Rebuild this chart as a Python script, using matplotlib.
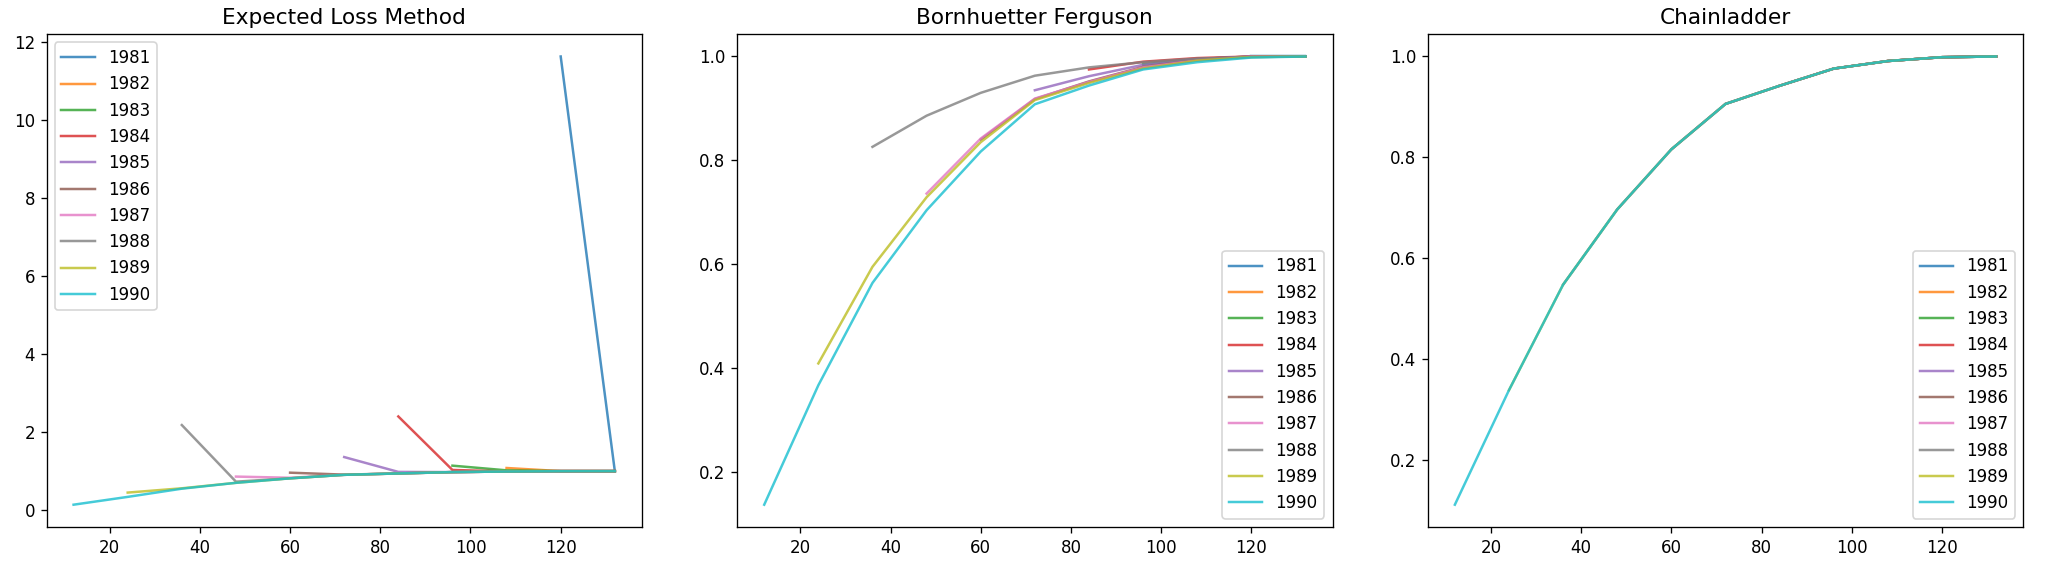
import matplotlib
matplotlib.use("Agg")
import matplotlib.pyplot as plt

# development ages (months) and origin years
ages = [12, 24, 36, 48, 60, 72, 84, 96, 108, 120, 132]
years = [1981, 1982, 1983, 1984, 1985, 1986, 1987, 1988, 1989, 1990]

# Expected Loss Method, one list per origin year (starts at its latest age)
el_1981 = [11.62, 1.0]
el_1982 = [1.08, 1.0, 1.0]
el_1983 = [1.14, 1.02, 1.0, 1.0]
el_1984 = [2.40, 1.03, 0.99, 1.0, 1.0]
el_1985 = [1.36, 0.98, 0.975, 0.99, 1.0, 1.0]
el_1986 = [0.96, 0.91, 0.94, 0.975, 0.99, 1.0, 1.0]
el_1987 = [0.86, 0.83, 0.905, 0.94, 0.975, 0.99, 1.0, 1.0]
el_1988 = [2.18, 0.73, 0.815, 0.905, 0.94, 0.975, 0.99, 1.0, 1.0]
el_1989 = [0.45, 0.56, 0.70, 0.815, 0.905, 0.94, 0.975, 0.99, 1.0, 1.0]
el_1990 = [0.14, 0.34, 0.55, 0.70, 0.815, 0.905, 0.94, 0.975, 0.99, 0.998, 1.0]

# Bornhuetter Ferguson
bf_1981 = [1.0, 1.0]
bf_1982 = [0.995, 1.0, 1.0]
bf_1983 = [0.985, 0.995, 1.0, 1.0]
bf_1984 = [0.975, 0.99, 0.997, 1.0, 1.0]
bf_1985 = [0.935, 0.962, 0.984, 0.995, 1.0, 1.0]
bf_1986 = [0.84, 0.918, 0.952, 0.98, 0.993, 1.0, 1.0]
bf_1987 = [0.736, 0.842, 0.919, 0.951, 0.979, 0.993, 1.0, 1.0]
bf_1988 = [0.826, 0.886, 0.930, 0.963, 0.979, 0.989, 0.996, 0.999, 1.0]
bf_1989 = [0.409, 0.595, 0.729, 0.835, 0.916, 0.949, 0.977, 0.992, 0.999, 1.0]
bf_1990 = [0.137, 0.367, 0.564, 0.704, 0.817, 0.908, 0.944, 0.975, 0.989, 0.998, 1.0]

# Chainladder (all origin years share the same pattern)
cl_1981 = [0.9986, 1.0]
cl_1982 = [0.991, 0.9986, 1.0]
cl_1983 = [0.976, 0.991, 0.9986, 1.0]
cl_1984 = [0.942, 0.976, 0.991, 0.9986, 1.0]
cl_1985 = [0.906, 0.942, 0.976, 0.991, 0.9986, 1.0]
cl_1986 = [0.816, 0.906, 0.942, 0.976, 0.991, 0.9986, 1.0]
cl_1987 = [0.697, 0.816, 0.906, 0.942, 0.976, 0.991, 0.9986, 1.0]
cl_1988 = [0.548, 0.697, 0.816, 0.906, 0.942, 0.976, 0.991, 0.9986, 1.0]
cl_1989 = [0.339, 0.548, 0.697, 0.816, 0.906, 0.942, 0.976, 0.991, 0.9986, 1.0]
cl_1990 = [0.112, 0.339, 0.548, 0.697, 0.816, 0.906, 0.942, 0.976, 0.991, 0.9986, 1.0]

el = [el_1981, el_1982, el_1983, el_1984, el_1985, el_1986, el_1987, el_1988, el_1989, el_1990]
bf = [bf_1981, bf_1982, bf_1983, bf_1984, bf_1985, bf_1986, bf_1987, bf_1988, bf_1989, bf_1990]
cl = [cl_1981, cl_1982, cl_1983, cl_1984, cl_1985, cl_1986, cl_1987, cl_1988, cl_1989, cl_1990]

dpi = 119.5
fig, axes = plt.subplots(1, 3, figsize=(2067 / dpi, 568 / dpi), dpi=dpi)
fig.subplots_adjust(left=0.0225, right=0.9788, bottom=0.072, top=0.94, wspace=0.16)

panels = [("Expected Loss Method", el, "upper left"),
          ("Bornhuetter Ferguson", bf, "lower right"),
          ("Chainladder", cl, "lower right")]

for ax, (title, series, loc) in zip(axes, panels):
    for year, vals in zip(years, series):
        ax.plot(ages[len(ages) - len(vals):], vals, label=str(year), alpha=0.8)
    ax.set_title(title, fontsize=13)
    ax.legend(loc=loc)

fig.savefig("out.png", dpi=dpi)
